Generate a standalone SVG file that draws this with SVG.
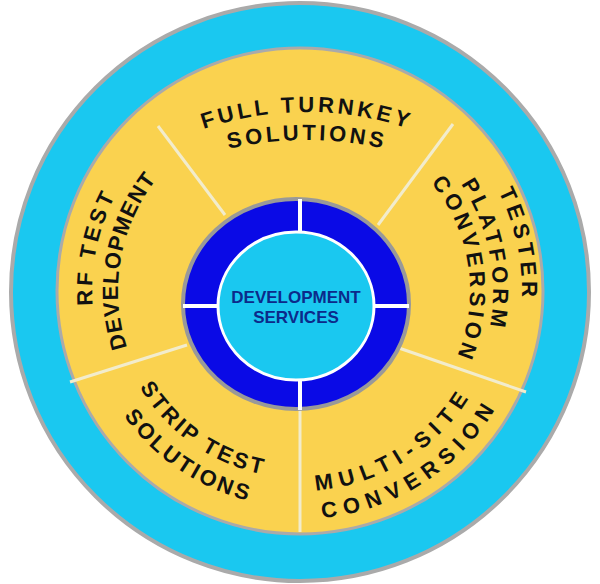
<svg xmlns="http://www.w3.org/2000/svg" width="600" height="584" viewBox="0 0 600 584">
<style>
.lbl{font-family:"Liberation Sans",Arial,sans-serif;font-weight:bold;font-size:22px;fill:#111}
.spoke{stroke:#f2eccc;stroke-width:3}
.div{stroke:#fff;stroke-width:4}
.ctr{font-family:"Liberation Sans",Arial,sans-serif;font-weight:bold;font-size:17px;fill:#0c2a8a}
</style>
<defs>
<path id="p1" d="M147,154.9 A320,320 0 0 1 467,154.9"/>
<path id="p2" d="M159.1,172.8 A350,350 0 0 1 454.9,172.8"/>
<path id="p3" d="M330.9,71.2 A222,222 0 0 1 417.6,479.3"/>
<path id="p4" d="M330.2,100.3 A193,193 0 0 1 399.4,456.4"/>
<path id="p5" d="M335.4,124.7 A170,170 0 0 1 379.8,441.1"/>
<path id="p6" d="M189.8,467.4 A208,208 0 0 1 271.1,85.1"/>
<path id="p7" d="M209,448.6 A182,182 0 0 1 268.3,111.8"/>
<path id="p8" d="M176.8,448.6 A200,200 0 0 0 495.6,249.4"/>
<path id="p9" d="M162.7,473.2 A228,228 0 0 0 522.1,239.7"/>
<path id="p10" d="M119.4,242.6 A187,187 0 0 0 407.3,444.2"/>
<path id="p11" d="M90.5,238.7 A216,216 0 0 0 427,465.7"/>
</defs>
<g id="background">
<circle cx="300" cy="292" r="289" fill="#1ac8f0" stroke="#aaa" stroke-width="4"/>
<circle cx="300" cy="291" r="243" fill="#fad24f" stroke="#aaa" stroke-width="3"/>
</g>
<g id="connectors">
<line class="spoke" x1="225" y1="215" x2="158" y2="126"/>
<line class="spoke" x1="378" y1="225" x2="453" y2="124"/>
<line class="spoke" x1="396" y1="347" x2="526" y2="392"/>
<line class="spoke" x1="300" y1="410" x2="300" y2="532"/>
<line class="spoke" x1="187" y1="345" x2="70" y2="382"/>
</g>
<g id="core">
<ellipse cx="296" cy="304" rx="113" ry="105" fill="#0a0ae6" stroke="#999" stroke-width="4"/>
<line class="div" x1="183" y1="306" x2="409" y2="306"/>
<line class="div" x1="300" y1="199" x2="300" y2="410"/>
<ellipse cx="296" cy="306" rx="78" ry="74" fill="#1ac8f0" stroke="#fff" stroke-width="3"/>
<text class="ctr" x="296" y="303" text-anchor="middle">DEVELOPMENT</text>
<text class="ctr" x="296" y="323" text-anchor="middle">SERVICES</text>
</g>
<g id="full-turnkey"><text class="lbl" letter-spacing="3.5"><textPath href="#p1" startOffset="50%" text-anchor="middle">FULL TURNKEY</textPath></text><text class="lbl" letter-spacing="3.3"><textPath href="#p2" startOffset="50%" text-anchor="middle">SOLUTIONS</textPath></text></g>
<g id="tester-platform"><text class="lbl" letter-spacing="4.5"><textPath href="#p3" startOffset="50%" text-anchor="middle">TESTER</textPath></text><text class="lbl" letter-spacing="4"><textPath href="#p4" startOffset="50%" text-anchor="middle">PLATFORM</textPath></text><text class="lbl" letter-spacing="4"><textPath href="#p5" startOffset="50%" text-anchor="middle">CONVERSION</textPath></text></g>
<g id="rf-test"><text class="lbl" letter-spacing="3.5"><textPath href="#p6" startOffset="50%" text-anchor="middle">RF TEST</textPath></text><text class="lbl" letter-spacing="1"><textPath href="#p7" startOffset="50%" text-anchor="middle">DEVELOPMENT</textPath></text></g>
<g id="multi-site"><text class="lbl" letter-spacing="7"><textPath href="#p8" startOffset="50%" text-anchor="middle">MULTI-SITE</textPath></text><text class="lbl" letter-spacing="7"><textPath href="#p9" startOffset="50%" text-anchor="middle">CONVERSION</textPath></text></g>
<g id="strip-test"><text class="lbl" letter-spacing="3"><textPath href="#p10" startOffset="50%" text-anchor="middle">STRIP TEST</textPath></text><text class="lbl" letter-spacing="3"><textPath href="#p11" startOffset="50%" text-anchor="middle">SOLUTIONS</textPath></text></g>
</svg>
